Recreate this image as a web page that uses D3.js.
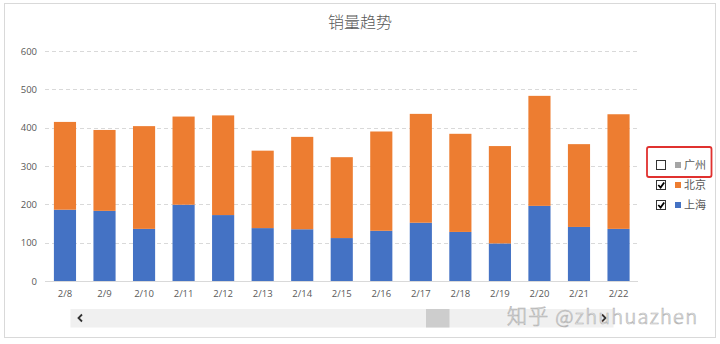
<!DOCTYPE html>
<html><head><meta charset="utf-8">
<script src="https://cdn.jsdelivr.net/npm/d3@7/dist/d3.min.js"></script>
<style>
html,body{margin:0;padding:0;background:#fff;}
svg{display:block;font-family:"Open Sans","Noto Sans CJK SC",sans-serif;}
</style></head>
<body>
<svg id="chart" width="720" height="344"></svg>
<script>
const categories = ["2/8","2/9","2/10","2/11","2/12","2/13","2/14","2/15","2/16","2/17","2/18","2/19","2/20","2/21","2/22"];
const shanghai = [186,183,136,199,172,138,135,112,131,152,128,98,196,141,136];
const beijing  = [229,211,268,230,260,202,241,211,259,284,256,254,287,216,299];
const yTicks = [0,100,200,300,400,500,600];
const seriesNames = ["上海","北京"];
const legendNames = ["广州","北京","上海"];
const legendChecked = [false,true,true];
const legendColors = ["#A5A5A5","#ED7D31","#4472C4"];
const colors = {"上海":"#4472C4","北京":"#ED7D31"};

const svg = d3.select("#chart");
// outer frame
svg.append("rect").attr("x",4.5).attr("y",3.5).attr("width",711).attr("height",334)
  .attr("fill","#fff").attr("stroke","#D9D9D9");

const x = d3.scaleBand().domain(categories).range([45.2,638.3]).paddingInner(0.44).paddingOuter(0.22);
const y = d3.scaleLinear().domain([0,600]).range([281,51]);

// title
svg.append("text").attr("x",360).attr("y",28).attr("text-anchor","middle")
  .attr("font-family","'Noto Sans CJK SC',sans-serif").attr("font-size",16).attr("font-weight",300)
  .attr("fill","#595959").text("销量趋势");

// gridlines
svg.append("g").selectAll("line").data(yTicks.filter(d=>d>0)).join("line")
  .attr("x1",45).attr("x2",638).attr("y1",d=>Math.round(y(d))+0.5).attr("y2",d=>Math.round(y(d))+0.5)
  .attr("stroke","#D9D9D9").attr("stroke-dasharray","4,3");

// y axis
const yAxis = d3.axisLeft(y).tickValues(yTicks).tickSize(0).tickPadding(8);
const gy = svg.append("g").attr("transform","translate(45,0)").call(yAxis);
gy.select(".domain").remove();
gy.selectAll("text").attr("font-size",9.5).attr("fill","#595959").attr("font-family","'Open Sans',sans-serif");

// stacked bars
const rows = categories.map((c,i)=>({cat:c,"上海":shanghai[i],"北京":beijing[i]}));
const stack = d3.stack().keys(seriesNames)(rows);
svg.append("g").selectAll("g").data(stack).join("g").attr("fill",d=>colors[d.key])
  .selectAll("rect").data(d=>d).join("rect")
  .attr("x",d=>x(d.data.cat)).attr("width",x.bandwidth())
  .attr("y",d=>y(d[1])).attr("height",d=>y(d[0])-y(d[1]));

// x axis
const xAxis = d3.axisBottom(x).tickSize(0).tickPadding(9);
const gx = svg.append("g").attr("transform","translate(0,281)").call(xAxis);
gx.select(".domain").attr("stroke","#D9D9D9").attr("d","M45,0.5H638");
gx.selectAll("text").attr("font-size",9.5).attr("fill","#595959").attr("font-family","'Open Sans',sans-serif");

// scrollbar
svg.append("rect").attr("x",70.5).attr("y",309).attr("width",543).attr("height",18.5).attr("fill","#F0F0F0");
svg.append("rect").attr("x",426).attr("y",309).attr("width",23.5).attr("height",18.5).attr("fill","#CDCDCD");
svg.append("path").attr("d","M82,314.5 L78.5,318 L82,321.5").attr("fill","none").attr("stroke","#333").attr("stroke-width",1.8);
svg.append("path").attr("d","M602,314.5 L605.5,318 L602,321.5").attr("fill","none").attr("stroke","#333").attr("stroke-width",1.8);

// legend
const lg = svg.append("g");
legendNames.forEach((name,i)=>{
  const cy = 165 + i*20;
  lg.append("rect").attr("x",656.5).attr("y",cy-4.5).attr("width",9).attr("height",9)
    .attr("fill","#fff").attr("stroke","#333").attr("stroke-width",1);
  if(legendChecked[i]){
    lg.append("path").attr("d",`M658.3,${cy} L660.6,${cy+2.5} L664.2,${cy-2.6}`)
      .attr("fill","none").attr("stroke","#000").attr("stroke-width",1.8);
  }
  lg.append("rect").attr("x",675).attr("y",cy-3).attr("width",6).attr("height",6).attr("fill",legendColors[i]);
  lg.append("text").attr("x",684).attr("y",cy+4).attr("font-size",11)
    .attr("font-family","'Noto Sans CJK SC',sans-serif").attr("fill","#595959").text(name);
});
svg.append("rect").attr("x",647).attr("y",147).attr("width",64.5).attr("height",30).attr("rx",2)
  .attr("fill","none").attr("stroke","#E0312F").attr("stroke-width",1.8);

// watermark
svg.append("text").attr("x",507).attr("y",324).attr("font-size",20).attr("letter-spacing",1.3)
  .attr("font-family","'Noto Sans CJK SC',sans-serif").attr("font-weight",300)
  .attr("fill","#fff").attr("stroke","#B5B5B5").attr("stroke-width",0.7)
  .text("知乎 @zhuhuazhen");
</script>
</body></html>
